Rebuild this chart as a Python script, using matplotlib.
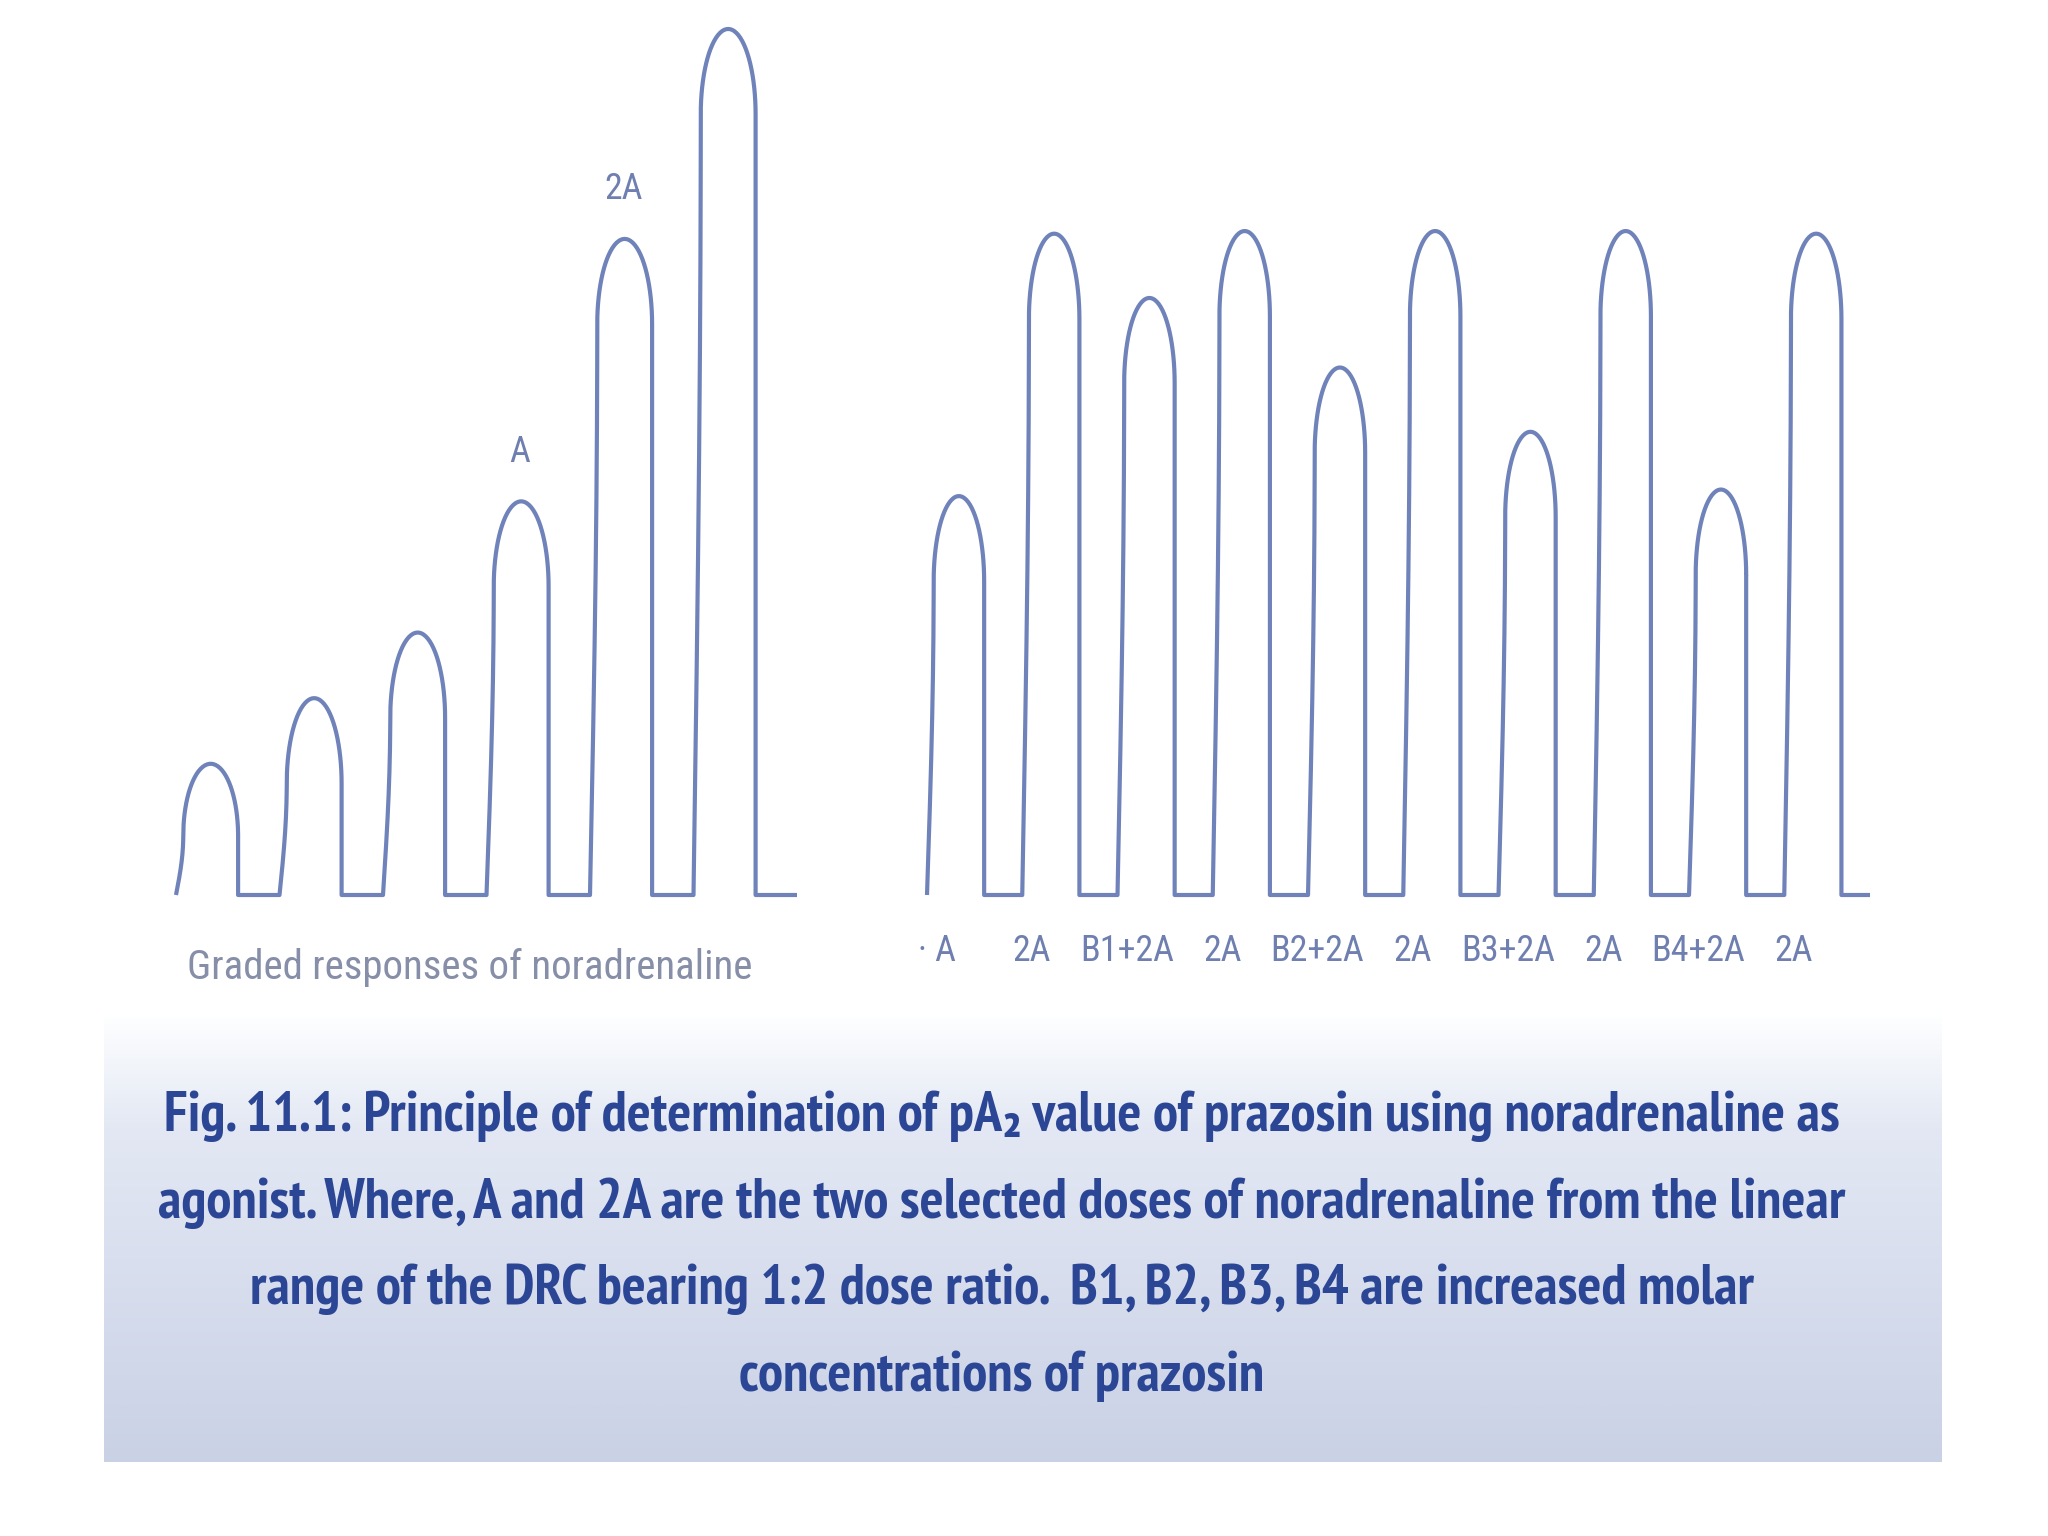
import numpy as np
import matplotlib
matplotlib.use("Agg")
import matplotlib.pyplot as plt
from matplotlib import font_manager

# ---------------- data ----------------
graded_heights = [10, 15, 20, 30, 50, 66]
graded_labels = ["", "", "", "A", "2A", ""]
graded_title = "Graded responses of noradrenaline"

test_heights = [30.4, 50.4, 45.5, 50.6, 40.2, 50.6, 35.3, 50.6, 30.9, 50.4]
test_labels = ["· A", "2A", "B1+2A", "2A", "B2+2A", "2A", "B3+2A", "2A", "B4+2A", "2A"]

caption_lines = [
    "Fig. 11.1: Principle of determination of pA\u2082 value of prazosin using noradrenaline as",
    "agonist. Where, A and 2A are the two selected doses of noradrenaline from the linear",
    "range of the DRC bearing 1:2 dose ratio.  B1, B2, B3, B4 are increased molar",
    "concentrations of prazosin",
]

# ---------------- style ----------------
names = {f.name for f in font_manager.fontManager.ttflist}


def pick(cands, default):
    for c in cands:
        if c in names:
            return c
    return default


LAB_FONT = pick(["Liberation Sans Narrow", "Arial Narrow", "Roboto Condensed",
                 "Archivo Narrow", "PT Sans Narrow"], "Liberation Sans")
CAP_FONT = pick(["PT Sans Narrow", "Open Sans Condensed", "Carlito"], "Liberation Sans")
FAM = [LAB_FONT, "DejaVu Sans"]
CFAM = [CAP_FONT, "DejaVu Sans"]
LINE_C = "#6f83ba"
LABEL_C = "#6f7fb0"
TITLE_C = "#868ea8"
CAP_C = "#2c4696"

W, H = 2048, 1536
fig = plt.figure(figsize=(W / 100, H / 100), dpi=100)
fig.patch.set_facecolor("white")


def trace(heights, total, w=0.6, lean=0.07, rmax=6.5):
    xs, ys = [], []
    for i, h in enumerate(heights):
        x0 = float(i)
        r = min(0.55 * h, rmax)
        s = np.linspace(0, 1, 40)
        xs += list(x0 + lean * np.sin(np.pi / 2 * s))
        ys += list((h - r) * s)
        a = (w - lean) / 2
        cx = x0 + lean + a
        t = np.linspace(np.pi, 0, 80)
        xs += list(cx + a * np.cos(t))
        ys += list(h - r + r * np.sin(t))
        xs += [x0 + w, x0 + w]
        ys += [h - r, 0]
        nxt = x0 + 1 if i < len(heights) - 1 else total
        xs += [nxt]
        ys += [0]
    return np.array(xs), np.array(ys)


ybot = 1 - 895 / H
yh = 866 / H

# left panel
axL = fig.add_axes([176 / W, ybot, (797 - 176) / W, yh])
axL.set_xlim(0, 6.0)
axL.set_ylim(0, 66)
axL.axis("off")
x, y = trace(graded_heights, 6.0)
axL.plot(x, y, color=LINE_C, lw=3.0, solid_capstyle="butt", clip_on=False)
lab_texts = []
for i, (h, lab) in enumerate(zip(graded_heights, graded_labels)):
    if lab:
        lab_texts.append(axL.text(i + 0.32, h + 3.8, lab, ha="center", va="center",
                                  fontsize=26, color=LABEL_C, family=FAM))
title_t = axL.text(2.84, -5.5, graded_title, ha="center", va="center",
                   fontsize=28, color=TITLE_C, family=FAM)

# right panel
axR = fig.add_axes([927 / W, ybot, (1870 - 927) / W, yh])
axR.set_xlim(0, 9.9)
axR.set_ylim(0, 66)
axR.axis("off")
x, y = trace(test_heights, 9.9)
axR.plot(x, y, color=LINE_C, lw=3.0, solid_capstyle="butt", clip_on=False)
rt = []
for i, lab in enumerate(test_labels):
    rt.append(axR.text(i + 0.1, -4.3, lab, ha="center", va="center",
                       fontsize=27, color=LABEL_C, family=FAM))

# caption box with gradient
axC = fig.add_axes([104 / W, 1 - 1462 / H, (1942 - 104) / W, (1462 - 1016) / H])
axC.axis("off")
top = np.array([0.995, 0.998, 1.0])
mid = np.array([0.89, 0.91, 0.955])
bot = np.array([0.79, 0.82, 0.90])
n = 256
g = np.zeros((n, 2, 3))
for k in range(n):
    t = k / (n - 1)
    if t < 0.25:
        c = top + (mid - top) * (t / 0.25)
    else:
        c = mid + (bot - mid) * ((t - 0.25) / 0.75)
    g[k, :, :] = c
axC.imshow(g, aspect="auto", extent=[0, 1, 0, 1], origin="upper", interpolation="bilinear")
axC.set_xlim(0, 1)
axC.set_ylim(0, 1)

baselines = [1131, 1218, 1304, 1391]
texts = []
for line, b in zip(caption_lines, baselines):
    t = fig.text(1002 / W, 1 - b / H, line, ha="center", va="baseline",
                 fontsize=30, fontweight="bold", color=CAP_C, family=CFAM)
    texts.append(t)

# fit text sizes to the widths measured on the reference
fig.canvas.draw()
r = fig.canvas.get_renderer()
wid = texts[1].get_window_extent(r).width
fs = 30 * 1683 / wid
for t in texts:
    t.set_fontsize(fs)
wt = title_t.get_window_extent(r).width
title_t.set_fontsize(28 * 564 / wt)
wb = rt[2].get_window_extent(r).width
fsl = 27 * 94 / wb
for t in rt + lab_texts:
    t.set_fontsize(fsl)

fig.savefig("out.png", dpi=100, facecolor="white")
